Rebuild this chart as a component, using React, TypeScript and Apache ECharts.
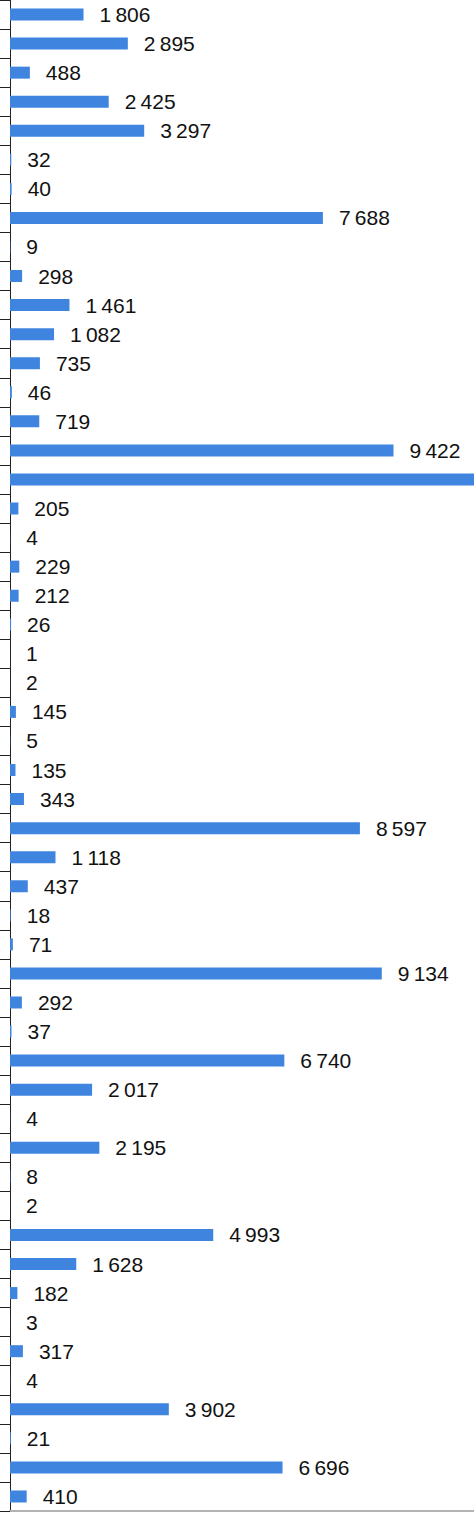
import React, { useEffect, useRef } from "react";
import * as echarts from "echarts";

const categories: string[] = Array.from({ length: 52 }, (_, i) => `Kategori ${i + 1}`);

const values: number[] = [
  1806, 2895, 488, 2425, 3297, 32, 40, 7688, 9, 298,
  1461, 1082, 735, 46, 719, 9422, 11950, 205, 4, 229,
  212, 26, 1, 2, 145, 5, 135, 343, 8597, 1118,
  437, 18, 71, 9134, 292, 37, 6740, 2017, 4, 2195,
  8, 2, 4993, 1628, 182, 3, 317, 4, 3902, 21,
  6696, 410,
];

const AXIS_MAX = 11400;

const fmt = (v: number) =>
  v > AXIS_MAX ? "" : String(v).replace(/\B(?=(\d{3})+(?!\d))/g, "\u2009");

export default function App() {
  const ref = useRef<HTMLDivElement>(null);
  useEffect(() => {
    if (!ref.current) return;
    const chart = echarts.init(ref.current, null, { renderer: "svg" });
    chart.setOption({
      animation: false,
      grid: { left: 10, right: 0, top: 0, bottom: 2, containLabel: false },
      xAxis: {
        type: "value",
        min: 0,
        max: AXIS_MAX,
        splitLine: { show: false },
        axisLabel: { show: false },
        axisTick: { show: false },
        axisLine: { show: true, lineStyle: { color: "#b3b3b3", width: 2 } },
      },
      yAxis: {
        type: "category",
        data: categories,
        inverse: true,
        axisLabel: { show: false },
        axisTick: { show: true, length: 10, lineStyle: { color: "#222", width: 1 } },
        axisLine: { show: true, lineStyle: { color: "#222", width: 1 } },
      },
      series: [
        {
          type: "bar",
          data: values,
          barWidth: 12,
          clip: true,
          itemStyle: { color: "#3F85DF" },
          label: {
            show: true,
            position: "right",
            distance: 16,
            formatter: (p: any) => fmt(p.value),
            fontFamily: "'Liberation Sans', Arial, sans-serif",
            fontSize: 21,
            color: "#111",
          },
        },
      ],
    });
    return () => chart.dispose();
  }, []);
  return (
    <div
      ref={ref}
      style={{ position: "absolute", left: 0, top: 0, width: 474, height: 1513 }}
    />
  );
}
